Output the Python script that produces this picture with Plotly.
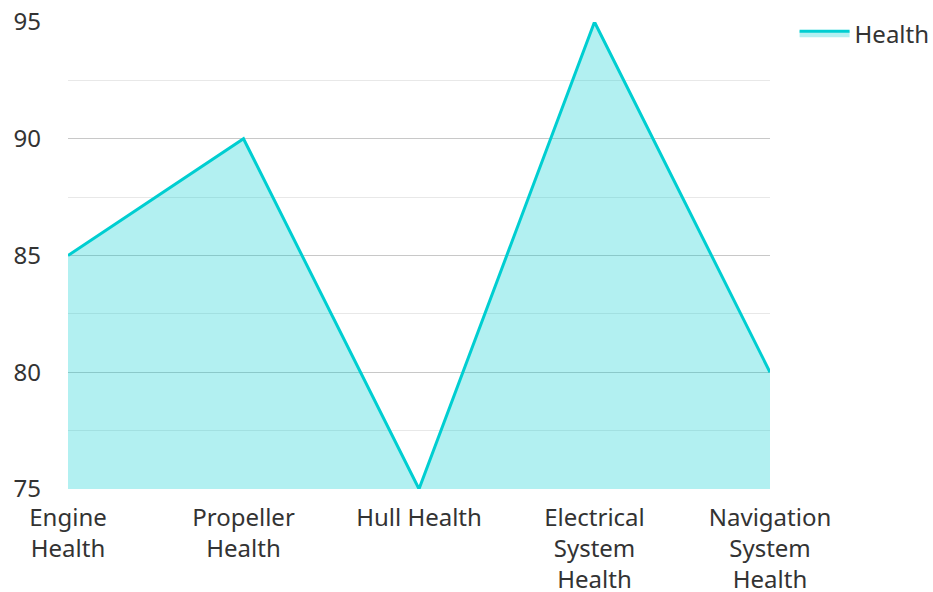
import plotly.graph_objects as go

categories = ["Engine<br>Health", "Propeller<br>Health", "Hull Health",
              "Electrical<br>System<br>Health", "Navigation<br>System<br>Health"]
health = [85, 90, 75, 95, 80]
y_ticks = [75, 80, 85, 90, 95]

fig = go.Figure()
fig.add_trace(go.Scatter(
    x=categories, y=health, name="Health", mode="lines",
    line=dict(color="#00CED1", width=3),
    fill="tozeroy", fillcolor="rgba(0,206,209,0.3)",
))

font = "Noto Sans, Open Sans, sans-serif"
fig.update_layout(
    width=933, height=592,
    margin=dict(l=68, r=163, t=22, b=103, autoexpand=False),
    plot_bgcolor="white", paper_bgcolor="white",
    font=dict(family=font, size=24, color="#333333"),
    showlegend=True,
    legend=dict(x=1.035, y=0.981, xref="paper", yref="container",
                xanchor="left", yanchor="top", itemwidth=50,
                font=dict(size=24, color="#333333"), bgcolor="rgba(0,0,0,0)"),
    xaxis=dict(range=[0, 4], showgrid=False, zeroline=False, showline=False,
               automargin=False,
               ticks="outside", ticklen=7, tickcolor="rgba(0,0,0,0)",
               tickfont=dict(size=24, color="#333333")),
    yaxis=dict(range=[75, 95], tickvals=y_ticks, showgrid=True, automargin=False,
               gridcolor="#C8C8C8", gridwidth=1, zeroline=False, showline=False,
               ticklabelstandoff=26,
               minor=dict(dtick=2.5, tick0=75, showgrid=True, gridcolor="#E8E8E8", gridwidth=1),
               tickfont=dict(size=24, color="#333333")),
)

fig.write_html("out.html")
